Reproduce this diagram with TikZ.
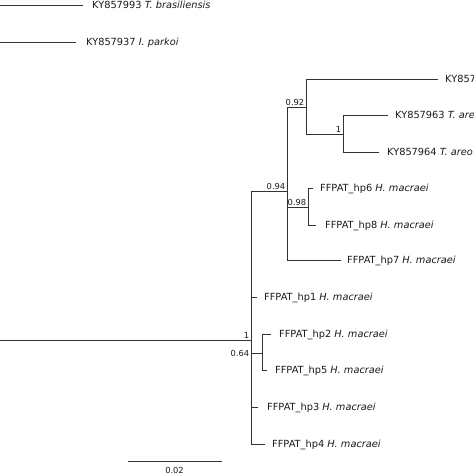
\documentclass[tikz,border=0pt]{standalone}
\usepackage{fontspec}
\setmainfont{DejaVu Sans}
\begin{document}
\begin{tikzpicture}[x=1pt,y=-1pt,
  br/.style={line width=1pt, draw=black!80, line cap=rect},
  leaf/.style={anchor=base west, inner sep=0pt, font=\fontsize{9.8}{11}\selectfont, text=black!90},
  supp/.style={inner sep=0.6pt, font=\fontsize{8.3}{10}\selectfont, text=black!90}]
\useasboundingbox (0,0) rectangle (474,474);
% internal nodes
\coordinate (r) at (0,340);
\coordinate (n0) at (251,340);
\coordinate (n94) at (287,191);
\coordinate (n92) at (306,107);
\coordinate (n1b) at (343,134);
\coordinate (n98) at (308,207);
\coordinate (n64) at (262,353);
% branch ends
\coordinate (l1s) at (0,5);   \coordinate (l1e) at (82,5);
\coordinate (l2s) at (0,42);  \coordinate (l2e) at (75,42);
\coordinate (ae) at (437,79);
\coordinate (be) at (387,115);
\coordinate (ce) at (378,152);
\coordinate (hp6e) at (312,188);
\coordinate (hp8e) at (315,225);
\coordinate (hp7e) at (340,260);
\coordinate (hp1e) at (256,297);
\coordinate (hp2e) at (270,334);
\coordinate (hp5e) at (266,370);
\coordinate (hp3e) at (257,407);
\coordinate (hp4e) at (264,444);
% leaves
\node[leaf] (l1) at (92,8.5) {KY857993 \textit{T. brasiliensis}};
\node[leaf] (l2) at (86,45.5) {KY857937 \textit{I. parkoi}};
\node[leaf] (a) at (445,82.5) {KY857};
\node[leaf] (b) at (395,118.5) {KY857963 \textit{T. are}};
\node[leaf] (c) at (387,155.5) {KY857964 \textit{T. areo}};
\node[leaf] (hp6) at (320,191.5) {FFPAT\_hp6 \textit{H. macraei}};
\node[leaf] (hp8) at (325,228.5) {FFPAT\_hp8 \textit{H. macraei}};
\node[leaf] (hp7) at (347,263.5) {FFPAT\_hp7 \textit{H. macraei}};
\node[leaf] (hp1) at (264,300.5) {FFPAT\_hp1 \textit{H. macraei}};
\node[leaf] (hp2) at (279,337.5) {FFPAT\_hp2 \textit{H. macraei}};
\node[leaf] (hp5) at (275,373.5) {FFPAT\_hp5 \textit{H. macraei}};
\node[leaf] (hp3) at (267,410.5) {FFPAT\_hp3 \textit{H. macraei}};
\node[leaf] (hp4) at (272,447.5) {FFPAT\_hp4 \textit{H. macraei}};
% branches
\draw[br] (l1s) -- (l1e);
\draw[br] (l2s) -- (l2e);
\draw[br] (r) -- (n0);
\draw[br] (n0) |- (n94);
\draw[br] (n0) |- (hp1e);
\draw[br] (n0) |- (n64);
\draw[br] (n0) |- (hp3e);
\draw[br] (n0) |- (hp4e);
\draw[br] (n94) |- (n92);
\draw[br] (n94) |- (n98);
\draw[br] (n94) |- (hp7e);
\draw[br] (n92) |- (ae);
\draw[br] (n92) |- (n1b);
\draw[br] (n1b) |- (be);
\draw[br] (n1b) |- (ce);
\draw[br] (n98) |- (hp6e);
\draw[br] (n98) |- (hp8e);
\draw[br] (n64) |- (hp2e);
\draw[br] (n64) |- (hp5e);
% support values
\node[supp, anchor=south east] (s1) at (250,339) {1};
\node[supp, anchor=east] (s64) at (250,353) {0.64};
\node[supp, anchor=south east] (s94) at (286,190) {0.94};
\node[supp, anchor=south east] (s92) at (305,106) {0.92};
\node[supp, anchor=south east] (s1b) at (342,133) {1};
\node[supp, anchor=south east] (s98) at (307,206) {0.98};
% scale bar
\coordinate (sb1) at (128,461);
\coordinate (sb2) at (221,461);
\draw[br] (sb1) -- (sb2);
\node[supp, anchor=base] (sbl) at (174.5,473.5) {0.02};
\end{tikzpicture}
\end{document}
